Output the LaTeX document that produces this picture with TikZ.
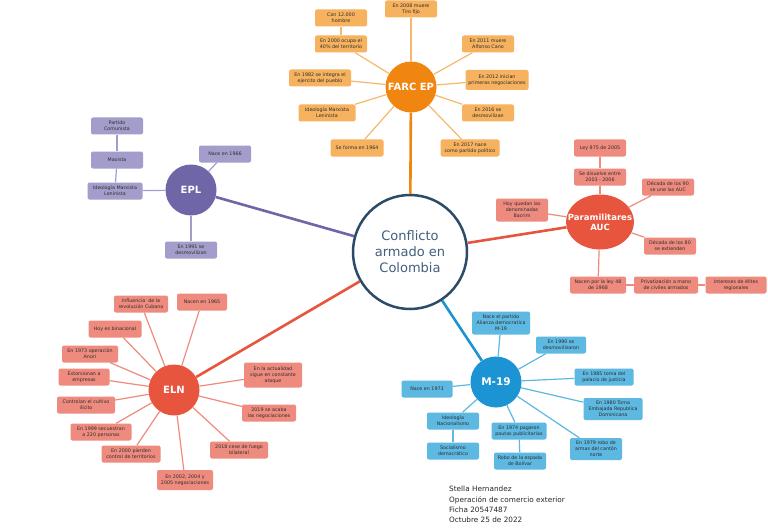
\documentclass[tikz,border=0pt]{standalone}
\usepackage{fontspec}
\setmainfont{DejaVu Sans}
\usetikzlibrary{shapes.geometric}
\definecolor{FarcOrange}{HTML}{F0850F}
\definecolor{FarcSoft}{HTML}{F6B25E}
\definecolor{FarcLine}{HTML}{F6B86B}
\definecolor{EplPurple}{HTML}{6E66A6}
\definecolor{EplSoft}{HTML}{A29DCA}
\definecolor{RedHub}{HTML}{E8553E}
\definecolor{RedSoft}{HTML}{EE8B7E}
\definecolor{MBlue}{HTML}{1C93D2}
\definecolor{MSoft}{HTML}{5DB8E2}
\definecolor{MainBlue}{HTML}{2C4B69}
\definecolor{MainText}{HTML}{435F7D}
\definecolor{BoxText}{HTML}{2E2E2E}

\begin{document}
\begin{tikzpicture}[x=1pt, y=-1pt,
  hub/.style={circle, text=white, font=\fontsize{10}{11}\selectfont\bfseries, minimum size=51pt, inner sep=0pt, align=center},
  box/.style={rounded corners=2pt, minimum width=52pt, minimum height=17pt, inner sep=1pt, align=center, text=BoxText, font=\fontsize{4.8}{5.8}\selectfont},
  farcbox/.style={box, fill=FarcSoft},
  eplbox/.style={box, fill=EplSoft},
  redbox/.style={box, fill=RedSoft},
  mbox/.style={box, fill=MSoft},
  link/.style={line width=1.2pt},
  bigline/.style={line width=2.6pt}
]
\useasboundingbox[fill=white] (0,0) rectangle (768,532);

\node[circle, draw=MainBlue, line width=2.5pt, fill=white, minimum size=114pt, text=MainText, font=\fontsize{13}{16}\selectfont, align=center] (main) at (410,252) {Conflicto\\armado en\\Colombia};

\node[hub, fill=FarcOrange] (farc) at (411,87) {FARC EP};
\node[farcbox] (f1) at (411,9) {En 2008 muere\\Tiro fijo};
\node[farcbox] (f2) at (341,18) {Con 12.000\\hombre};
\node[farcbox] (f3) at (341,44) {En 2000 ocupa el\\40\% del territorio};
\node[farcbox] (f4) at (488,44) {En 2011 muere\\Alfonso Cano};
\node[farcbox, minimum width=62pt] (f5) at (320,78) {En 1982 se integra el\\ejercito del pueblo};
\node[farcbox, minimum width=63pt, minimum height=20pt] (f6) at (497,80) {En 2012 inician\\primeras negociaciones};
\node[farcbox, minimum width=57pt] (f7) at (327,113) {Ideología Marxista\\Leninista};
\node[farcbox] (f8) at (488,113) {En 2016 se\\desmovilizan};
\node[farcbox, minimum width=53pt] (f9) at (357,148) {Se forma en 1964};
\node[farcbox, minimum width=59pt] (f10) at (470,148) {En 2017 nace\\como partido político};

\node[hub, fill=EplPurple] (epl) at (191,190) {EPL};
\node[eplbox] (e1) at (117,126) {Partido\\Comunista};
\node[eplbox] (e2) at (117,160) {Maoista};
\node[eplbox, minimum width=55pt] (e3) at (115,191) {Ideología Marxista\\Leninista};
\node[eplbox] (e4) at (225,154) {Nace en 1966};
\node[eplbox] (e5) at (191,250) {En 1991 se\\desmovilizan};

\node[ellipse, fill=RedHub, minimum width=68pt, minimum height=55pt, inner sep=0pt] (para) at (600,222) {};
\node[text=white, font=\fontsize{8.5}{10}\selectfont\bfseries, align=center, inner sep=0pt] (paratext) at (600,222) {Paramilitares\\AUC};
\node[redbox] (p1) at (600,148) {Ley 975 de 2005};
\node[redbox] (p2) at (600,177) {Se disuelve entre\\2003 - 2006};
\node[redbox] (p3) at (668,187) {Década de los 90\\se une las AUC};
\node[redbox, minimum height=23pt] (p4) at (522,210) {Hoy quedan las\\denominadas\\Bacrim};
\node[redbox] (p5) at (670,246) {Década de los 80\\se extienden};
\node[redbox, minimum width=56pt] (p6) at (598,285) {Nacen por la ley 48\\de 1968};
\node[redbox, minimum width=64pt] (p7) at (666,285) {Privatización a mano\\de civiles armados};
\node[redbox, minimum width=61pt] (p8) at (736,285) {Intereses de élites\\regionales};

\node[hub, fill=RedHub] (eln) at (174,390) {ELN};
\node[redbox, minimum width=54pt] (n1) at (141,304) {Influencia~ de la\\revolución Cubana};
\node[redbox, minimum width=50pt] (n2) at (202,302) {Nacen en 1965};
\node[redbox, minimum width=53pt] (n3) at (115,329) {Hoy es binacional};
\node[redbox, minimum width=56pt] (n4) at (90,354) {En 1973 operación\\Anori};
\node[redbox, minimum width=51pt] (n5) at (84,377) {Extorsionan a\\empresas};
\node[redbox, minimum width=58pt] (n6) at (86,405) {Controlan el cultivo\\ilícito};
\node[redbox, minimum width=61pt] (n7) at (101,432) {En 1999 secuestran\\a 220 personas};
\node[redbox, minimum width=59pt] (n8) at (131,454) {En 2000 pierden\\control de territorios};
\node[redbox, minimum width=56pt, minimum height=20pt] (n9) at (185,480) {En 2002, 2004 y\\2005 negociaciones};
\node[redbox, minimum width=58pt] (n10) at (239,450) {2018 cese de fuego\\bilateral};
\node[redbox, minimum width=54pt] (n11) at (269,413) {2019 se acaba\\las negociaciones};
\node[redbox, minimum width=58pt, minimum height=25pt] (n12) at (273,375) {En la actualidad\\sigue en constante\\ataque};

\node[hub, fill=MBlue, font=\fontsize{10.5}{12}\selectfont\bfseries] (m19) at (496,382) {M-19};
\node[mbox, minimum width=58pt, minimum height=23pt] (m1) at (501,323) {Nace el partido\\Alianza democratica\\M-19};
\node[mbox, minimum width=50pt] (m2) at (561,345) {En 1990 se\\desmovilizaron};
\node[mbox, minimum width=59pt] (m3) at (604,377) {En 1985 toma del\\palacio de justicia};
\node[mbox, minimum width=59pt, minimum height=22pt] (m4) at (613,409) {En 1980 Toma\\Embajada Republica\\Dominicana};
\node[mbox, minimum height=22pt] (m5) at (596,449) {En 1979 robo de\\armas del cantón\\norte};
\node[mbox, minimum width=51pt] (m6) at (427,389) {Nace en 1973};
\node[mbox] (m7) at (453,421) {Ideología\\Nacionalismo};
\node[mbox] (m8) at (453,451) {Socialismo\\democrático};
\node[mbox, minimum width=55pt] (m9) at (519,431) {En 1974 pagaron\\pautas publicitarias};
\node[mbox] (m10) at (520,461) {Robo de la espada\\de Bolívar};

\node[anchor=north west, align=left, inner sep=1pt, text=black!85, font=\fontsize{7.3}{10.3}\selectfont] (author) at (448,485) {Stella Hernandez\\Operación de comercio exterior\\Ficha 20547487\\Octubre 25 de 2022};

\draw[bigline, FarcOrange] (farc) -- (main);
\draw[bigline, EplPurple] (epl) -- (main);
\draw[bigline, RedHub] (para) -- (main);
\draw[bigline, RedHub] (eln) -- (main);
\draw[bigline, MBlue] (m19) -- (main);

\draw[link, FarcLine] (farc) -- (f1);
\draw[link, FarcLine] (f2) -- (f3);
\draw[link, FarcLine] (farc) -- (f3);
\draw[link, FarcLine] (farc) -- (f4);
\draw[link, FarcLine] (farc) -- (f5);
\draw[link, FarcLine] (farc) -- (f6);
\draw[link, FarcLine] (farc) -- (f7);
\draw[link, FarcLine] (farc) -- (f8);
\draw[link, FarcLine] (farc) -- (f9);
\draw[link, FarcLine] (farc) -- (f10);

\draw[link, EplSoft] (e1) -- (e2);
\draw[link, EplSoft] (e2) -- (e3);
\draw[link, EplSoft] (e3) -- (epl);
\draw[link, EplSoft] (epl) -- (e4);
\draw[link, EplSoft] (epl) -- (e5);

\draw[link, RedSoft] (p1) -- (p2);
\draw[link, RedSoft] (p2) -- (para);
\draw[link, RedSoft] (para) -- (p3);
\draw[link, RedSoft] (para) -- (p4);
\draw[link, RedSoft] (para) -- (p5);
\draw[link, RedSoft] (para) -- (p6);
\draw[link, RedSoft] (p6) -- (p7);
\draw[link, RedSoft] (p7) -- (p8);

\draw[link, RedSoft] (eln) -- (n1);
\draw[link, RedSoft] (eln) -- (n2);
\draw[link, RedSoft] (eln) -- (n3);
\draw[link, RedSoft] (eln) -- (n4);
\draw[link, RedSoft] (eln) -- (n5);
\draw[link, RedSoft] (eln) -- (n6);
\draw[link, RedSoft] (eln) -- (n7);
\draw[link, RedSoft] (eln) -- (n8);
\draw[link, RedSoft] (eln) -- (n9);
\draw[link, RedSoft] (eln) -- (n10);
\draw[link, RedSoft] (eln) -- (n11);
\draw[link, RedSoft] (eln) -- (n12);

\draw[link, MSoft] (m19) -- (m1);
\draw[link, MSoft] (m19) -- (m2);
\draw[link, MSoft] (m19) -- (m3);
\draw[link, MSoft] (m19) -- (m4);
\draw[link, MSoft] (m19) -- (m5);
\draw[link, MSoft] (m19) -- (m6);
\draw[link, MSoft] (m19) -- (m7);
\draw[link, MSoft] (m7) -- (m8);
\draw[link, MSoft] (m19) -- (m9);
\draw[link, MSoft] (m9) -- (m10);
\end{tikzpicture}
\end{document}
